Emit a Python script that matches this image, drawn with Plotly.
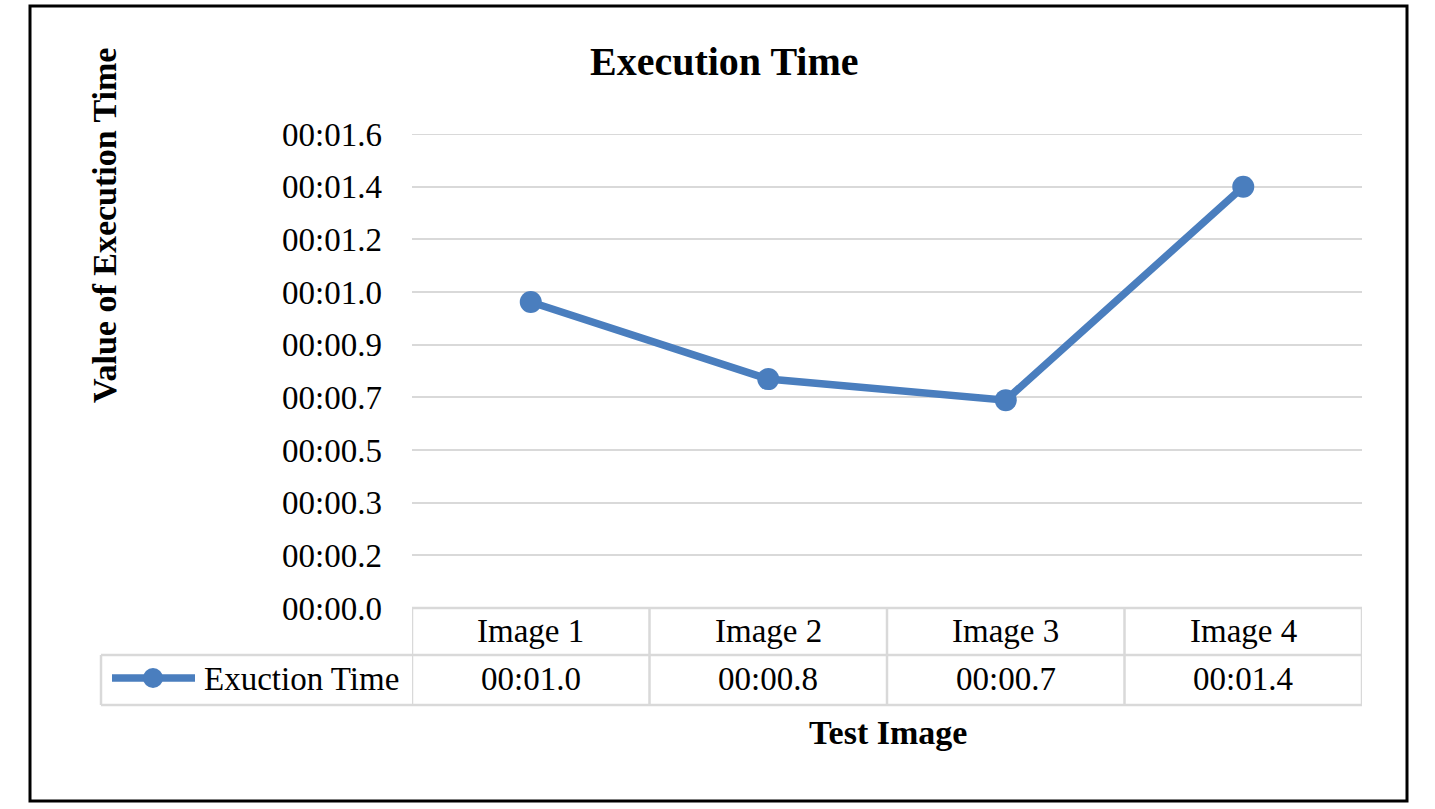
import plotly.graph_objects as go

# ---- data ----
categories = ["Image 1", "Image 2", "Image 3", "Image 4"]
exec_seconds = [1.004, 0.751, 0.682, 1.382]
series_name = "Exuction Time"
tick_step = 0.1728  # seconds (Excel time major unit)
tick_labels = ["00:00.0", "00:00.2", "00:00.3", "00:00.5", "00:00.7",
               "00:00.9", "00:01.0", "00:01.2", "00:01.4", "00:01.6"]

def fmt(v):
    return "00:%04.1f" % v

W, H = 1435, 809
L, R, T, B = 412, 1362, 134, 608
pw, ph = R - L, B - T

def px(x):
    return (x - L) / pw

def py(y):
    return (B - y) / ph

COLOR = "#4A7EBE"
GRID = "#D9D9D9"
FONT = "Liberation Serif"

tick_vals = [i * tick_step for i in range(len(tick_labels))]

fig = go.Figure()
fig.add_trace(go.Scatter(
    x=list(range(len(categories))), y=exec_seconds, mode="lines+markers",
    line=dict(color=COLOR, width=7.5), marker=dict(size=22, color=COLOR),
    name=series_name, showlegend=False, cliponaxis=False))

shapes = []
# outer border
shapes.append(dict(type="rect", xref="paper", yref="paper",
                   x0=px(30), x1=px(1407), y0=py(801), y1=py(6),
                   line=dict(color="black", width=3), layer="below"))
# top gridline (plotly omits the grid line at the range edge)
shapes.append(dict(type="line", xref="paper", yref="y", x0=0, x1=1,
                   y0=tick_vals[-1], y1=tick_vals[-1],
                   line=dict(color=GRID, width=2), layer="below"))
# table lines
tl = dict(color=GRID, width=2.5)
n = len(categories)
for i in range(n + 1):
    shapes.append(dict(type="line", xref="x", yref="paper", x0=i - 0.5, x1=i - 0.5,
                       y0=py(608), y1=py(705), line=tl))
shapes.append(dict(type="line", xref="paper", yref="paper", x0=px(101), x1=1,
                   y0=py(655), y1=py(655), line=tl))
shapes.append(dict(type="line", xref="paper", yref="paper", x0=px(101), x1=1,
                   y0=py(705), y1=py(705), line=tl))
shapes.append(dict(type="line", xref="paper", yref="paper", x0=px(101), x1=px(101),
                   y0=py(655), y1=py(705), line=tl))
shapes.append(dict(type="line", xref="paper", yref="paper", x0=0, x1=1,
                   y0=py(608), y1=py(608), line=tl))
# legend key
shapes.append(dict(type="line", xref="paper", yref="paper", x0=px(112), x1=px(195),
                   y0=py(678), y1=py(678), line=dict(color=COLOR, width=7.5)))
shapes.append(dict(type="circle", xref="paper", yref="paper", x0=px(143), x1=px(163),
                   y0=py(688), y1=py(668), fillcolor=COLOR, line=dict(color=COLOR, width=0)))

TF = dict(family=FONT, size=33, color="black")
ann = []
for i, c in enumerate(categories):
    ann.append(dict(x=i, y=py(631), xref="x", yref="paper", text=c, showarrow=False,
                    font=TF, yanchor="middle"))
    ann.append(dict(x=i, y=py(679), xref="x", yref="paper", text=fmt(exec_seconds[i]),
                    showarrow=False, font=TF, yanchor="middle"))
ann.append(dict(x=px(401), y=py(679), xref="paper", yref="paper", text=series_name,
                showarrow=False, xanchor="right", yanchor="middle", font=TF))
ann.append(dict(x=px(724), y=py(61), xref="paper", yref="paper", text="<b>Execution Time</b>",
                showarrow=False, xanchor="center", yanchor="middle",
                font=dict(family=FONT, size=40, color="black")))
ann.append(dict(x=px(888), y=py(732), xref="paper", yref="paper", text="<b>Test Image</b>",
                showarrow=False, xanchor="center", yanchor="middle",
                font=dict(family=FONT, size=34, color="black")))
ann.append(dict(x=px(104), y=py(226), xref="paper", yref="paper",
                text="<b>Value of Execution Time</b>", textangle=-90,
                showarrow=False, xanchor="center", yanchor="middle",
                font=dict(family=FONT, size=34, color="black")))

fig.update_layout(
    width=W, height=H,
    margin=dict(l=L, r=W - R, t=T, b=H - B, pad=0),
    paper_bgcolor="white", plot_bgcolor="white",
    shapes=shapes, annotations=ann,
    xaxis=dict(range=[-0.5, n - 0.5], showticklabels=False, showgrid=False,
               zeroline=False, showline=False, ticks="", fixedrange=True),
    yaxis=dict(range=[0, tick_vals[-1]], tickvals=tick_vals, ticktext=tick_labels,
               showgrid=True, gridcolor=GRID, gridwidth=2, zeroline=False,
               showline=False, ticks="", ticklabelstandoff=29,
               tickfont=dict(family=FONT, size=33, color="black")),
    font=dict(family=FONT),
)

fig.write_html("out.html", config={"displayModeBar": False},
               post_script="document.body.style.margin='0';document.body.style.overflow='hidden';")
